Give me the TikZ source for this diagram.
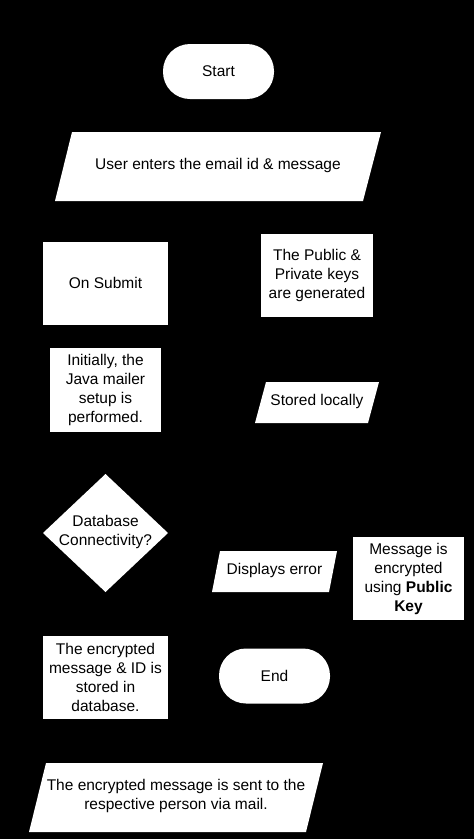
\documentclass[tikz,border=0pt]{standalone}
\usepackage{fontspec}
\setmainfont{Liberation Sans}

\tikzset{
	box/.style={fill=white, align=center, inner sep=2pt},
	term/.style={box, rounded corners=27pt, minimum width=111pt, minimum height=55pt},
	label/.style={align=center, inner sep=2pt},
}

\begin{document}
\begin{tikzpicture}[x=1pt,y=1pt,font=\fontsize{15.5}{19}\selectfont]
		\fill[black] (0,0) rectangle (474,-839);
		\useasboundingbox (0,0) rectangle (474,-839);

		% parallelograms and decision
		\fill[white] (72,-132) -- (381,-132) -- (363,-201) -- (55,-201) -- cycle;
		\fill[white] (266,-382) -- (379,-382) -- (368,-423) -- (255,-423) -- cycle;
		\fill[white] (43,-533) -- (105.5,-474) -- (168,-533) -- (105.5,-592) -- cycle;
		\fill[white] (220,-551) -- (337,-551) -- (329,-592) -- (212,-592) -- cycle;
		\fill[white] (46,-763) -- (323,-763) -- (306,-832) -- (29,-832) -- cycle;

		\node[term] (start) at (218.5,-71.5) {Start};
		\node[label] (input) at (218,-165) {User enters the email id \& message};

		\node[box,minimum width=125pt,minimum height=83pt] (submit) at (105.5,-283) {On Submit};
		\node[box,minimum width=112pt,minimum height=83pt] (keys) at (317,-275.5) {The Public \&\\Private keys\\are generated};

		\node[box,minimum width=111pt,minimum height=84pt] (mailer) at (105.5,-390) {Initially, the\\Java mailer\\setup is\\performed.};
		\node[label] (local) at (317,-401) {Stored locally};

		\node[label] (db) at (105.5,-532) {Database\\Connectivity?};

		\node[label] (error) at (274.5,-570) {Displays error};
		\node[box,minimum width=111pt,minimum height=83pt] (encrypt) at (408.5,-578.5) {Message is\\encrypted\\using \textbf{Public}\\\textbf{Key}};

		\node[box,minimum width=125pt,minimum height=83pt] (store) at (105.5,-677.5) {The encrypted\\message \& ID is\\stored in\\database.};
		\node[term] (end) at (274.5,-676) {End};

		\node[label] (send) at (176,-796) {The encrypted message is sent to the\\respective person via mail.};
	\end{tikzpicture}
\end{document}
